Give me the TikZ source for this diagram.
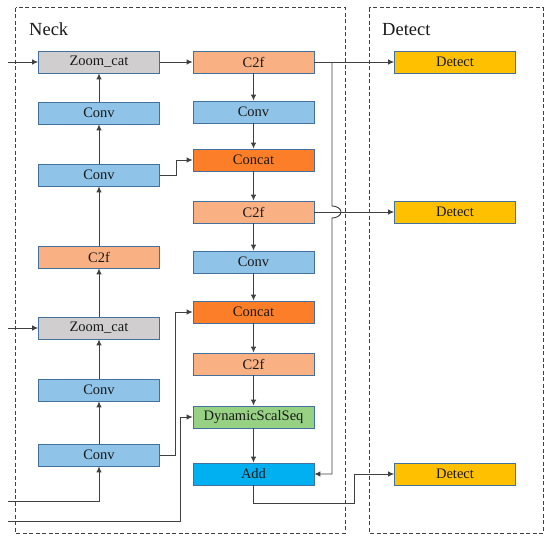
\documentclass[tikz,border=0pt]{standalone}
\usepackage{fontspec}
\setmainfont{Liberation Serif}
\usetikzlibrary{arrows.meta}
\definecolor{bordc}{HTML}{41719C}
\definecolor{linec}{HTML}{404040}
\definecolor{zoomc}{HTML}{D0CECE}
\definecolor{convc}{HTML}{8FC3E8}
\definecolor{c2fc}{HTML}{F9B183}
\definecolor{concatc}{HTML}{FC7E28}
\definecolor{dssc}{HTML}{97D183}
\definecolor{addc}{HTML}{00B0F0}
\definecolor{detc}{HTML}{FFC000}
\tikzset{
  blk/.style={draw=bordc, line width=0.8pt, minimum width=121pt, minimum height=22pt, inner sep=0pt, font=\fontsize{14.5}{16}\selectfont, text=black!90},
  zoomb/.style={blk, fill=zoomc},
  convb/.style={blk, fill=convc},
  c2fb/.style={blk, fill=c2fc},
  concatb/.style={blk, fill=concatc},
  dssb/.style={blk, fill=dssc},
  addb/.style={blk, fill=addc},
  detb/.style={blk, fill=detc},
  arr/.style={draw=linec, line width=0.9pt, -{Latex[length=6pt,width=5.5pt]}},
  frame/.style={draw=linec, line width=0.8pt, dash pattern=on 4pt off 2.5pt},
  ttl/.style={font=\fontsize{18.5}{20}\selectfont, anchor=base west, inner sep=0pt, text=black!90}
}
\begin{document}
\begin{tikzpicture}[x=1pt,y=-1pt]
\useasboundingbox (0,0) rectangle (550,541);
% frames
\draw[frame] (15.5,7.5) rectangle (345,533);
\draw[frame] (369,7.5) rectangle (543,533);
\node[ttl] (tneck) at (29,35) {Neck};
\node[ttl] (tdet) at (382,35) {Detect};
% left column
\node[zoomb] (L1) at (99,62) {Zoom\_cat};
\node[convb] (L2) at (99,113) {Conv};
\node[convb] (L3) at (99,175) {Conv};
\node[c2fb]  (L4) at (99,257) {C2f};
\node[zoomb] (L5) at (99,328) {Zoom\_cat};
\node[convb] (L6) at (99,390) {Conv};
\node[convb] (L7) at (99,455) {Conv};
% middle column
\node[c2fb]    (M1) at (253.5,62) {C2f};
\node[convb]   (M2) at (253.5,112) {Conv};
\node[concatb] (M3) at (253.5,160) {Concat};
\node[c2fb]    (M4) at (253.5,212) {C2f};
\node[convb]   (M5) at (253.5,262) {Conv};
\node[concatb] (M6) at (253.5,312) {Concat};
\node[c2fb]    (M7) at (253.5,364) {C2f};
\node[dssb]    (M8) at (253.5,417) {DynamicScalSeq};
\node[addb]    (M9) at (253.5,474) {Add};
% detect column
\node[detb] (D1) at (455,62) {Detect};
\node[detb] (D2) at (455,212) {Detect};
\node[detb] (D3) at (455,474) {Detect};
% inputs
\coordinate (in1) at (8,62);
\coordinate (in2) at (8,328);
\coordinate (in3) at (8,501);
\coordinate (in4) at (8,521);
\coordinate (br) at (332,62);
\draw[arr] (in1) -- (L1.west);
\draw[arr] (in2) -- (L5.west);
\draw[arr] (in3) -| (L7.south);
\draw[arr] (in4) -| ([xshift=-12pt]M8.west) -- (M8.west);
% left column upward
\draw[arr] (L7.north) -- (L6.south);
\draw[arr] (L6.north) -- (L5.south);
\draw[arr] (L5.north) -- (L4.south);
\draw[arr] (L4.north) -- (L3.south);
\draw[arr] (L3.north) -- (L2.south);
\draw[arr] (L2.north) -- (L1.south);
% cross links
\draw[arr] (L1.east) -- (M1.west);
\draw[arr] (L3.east) -| ([xshift=-16pt]M3.west) -- (M3.west);
\draw[arr] (L7.east) -| ([xshift=-17pt]M6.west) -- (M6.west);
% middle column downward
\draw[arr] (M1.south) -- (M2.north);
\draw[arr] (M2.south) -- (M3.north);
\draw[arr] (M3.south) -- (M4.north);
\draw[arr] (M4.south) -- (M5.north);
\draw[arr] (M5.south) -- (M6.north);
\draw[arr] (M6.south) -- (M7.north);
\draw[arr] (M7.south) -- (M8.north);
\draw[arr] (M8.south) -- (M9.north);
% to detect
\draw[arr] (M1.east) -- (D1.west);
\draw[arr] (M4.east) -- (D2.west);
\draw[arr] (br) -- ([yshift=6pt]br |- M4) arc[start angle=90, end angle=-90, x radius=9pt, y radius=6pt] -- (br |- M9) -- (M9.east);
\draw[arr] (M9.south) -- ++(0,18) -| ([xshift=-40pt]D3.west) -- (D3.west);
\end{tikzpicture}
\end{document}
